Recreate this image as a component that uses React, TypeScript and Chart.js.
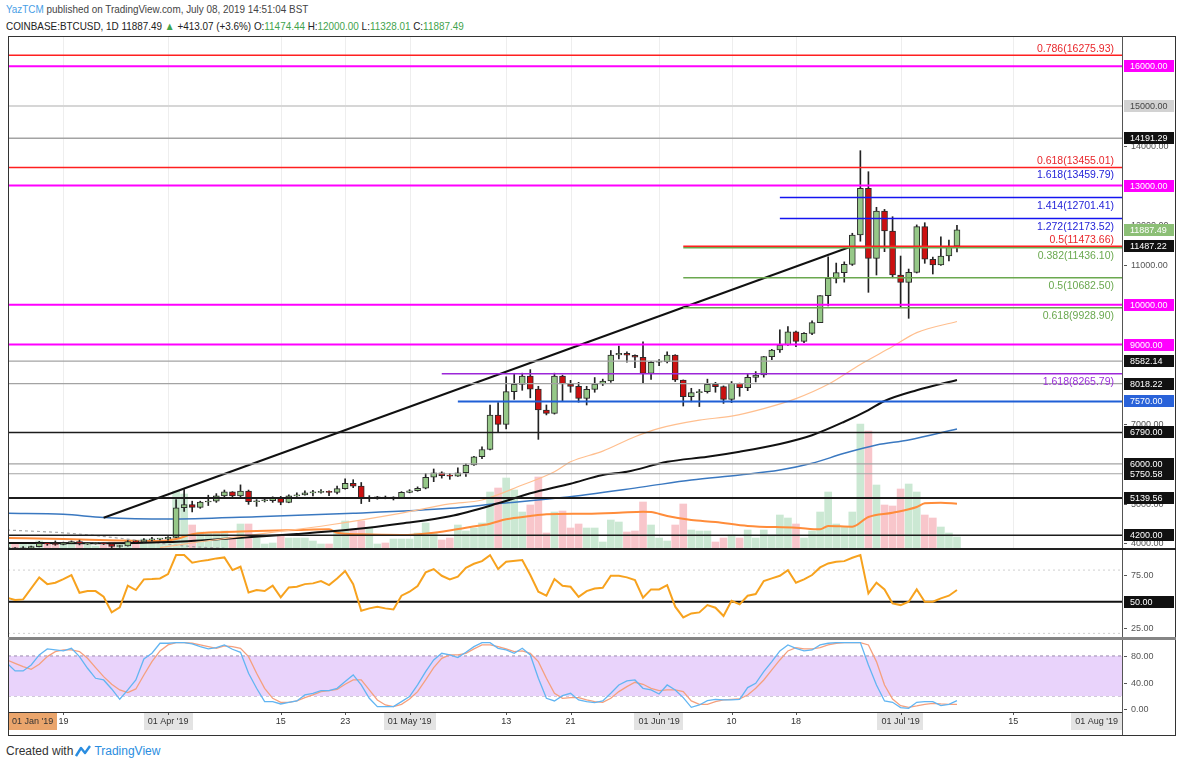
import React, { useEffect, useRef } from "react";
import { Chart, registerables } from "chart.js";
Chart.register(...registerables);

// ---------------- data (day 0 = 01 Apr 2019) ----------------
const FIRST_DAY = -20; // 12 Mar 2019
const OPEN = [3870,3880,3860,3875,3915,4000,3985,3970,4010,4045,3990,3995,4005,3990,3920,3935,4045,4035,4085,4105,
4110,4150,4895,4975,4905,5040,5060,5195,5295,5190,5315,5045,5070,5075,5150,5030,5195,5220,5270,5280,
5290,5280,5375,5510,5440,5130,5145,5150,5140,5145,5280,5322,5385,5662,5776,5700,5690,5776,5970,6178,
6360,7228,6994,7814,8000,8209,7880,7353,7270,8209,8008,7950,7648,7874,8008,8083,8737,8780,8730,8680,
8277,8554,8570,8737,8108,7689,7790,7815,8000,7940,7623,8025,7916,8176,8234,8695,8863,8989,9320,9080,
9280,9550,10229,10666,10808,11019,11756,12931,11170,12360,11857,10750,10566,10817,11965,11145,11001,11228,11474];
const HIGH = [3910,3890,3920,3930,4050,4010,4060,4030,4060,4080,4010,4020,4010,4000,3950,4070,4060,4120,4150,4120,
4170,5100,5350,5060,5060,5210,5250,5340,5300,5470,5340,5100,5120,5170,5180,5220,5270,5320,5330,5350,
5320,5440,5620,5600,5530,5200,5180,5190,5170,5300,5350,5420,5760,5870,5800,5760,5900,6000,6190,6430,
7480,7540,8186,8277,8280,8370,7950,7480,8280,8230,8100,8050,7950,8170,8130,8850,8963,8820,8740,9071,
8580,8620,8820,8745,8110,7900,7870,8130,8050,7960,8070,8030,8250,8320,8700,8880,9370,9450,9340,9300,
9600,10230,11210,11050,11080,11800,13877,13348,12453,12400,12216,11227,10900,12010,12065,11200,11713,11630,12000];
const LOW = [3820,3840,3810,3860,3910,3950,3950,3960,3990,3960,3970,3980,3970,3890,3900,3930,4020,4025,4060,4085,
4080,4140,4800,4790,4880,4950,5030,5150,5150,5170,4980,4930,5040,5030,4970,5020,5180,5210,5190,5260,
5200,5240,5360,5400,5000,5050,5110,5120,5090,5130,5270,5310,5370,5550,5640,5610,5680,5680,5960,6130,
6350,6808,6880,7620,7850,7660,6615,7230,7250,7580,7800,7550,7480,7800,7970,8050,8640,8560,8420,8025,
8120,8470,8540,8070,7454,7560,7440,7780,7800,7520,7540,7700,7840,8060,8180,8620,8800,8980,8950,9050,
9250,9550,9970,10550,10570,10990,11600,10314,10750,11336,10680,9952,9660,10800,11044,10775,10990,11102,11328];
const CLOSE = [3880,3860,3875,3915,4000,3985,3970,4010,4045,3990,3995,4005,3990,3920,3935,4045,4035,4085,4105,4110,
4150,4895,4975,4905,5040,5060,5195,5295,5190,5315,5045,5070,5075,5150,5030,5195,5220,5270,5280,5290,
5280,5375,5510,5440,5130,5145,5150,5140,5145,5280,5322,5385,5662,5776,5700,5690,5776,5970,6178,6360,
7228,6994,7814,8000,8209,7880,7353,7270,8209,8008,7950,7648,7874,8008,8083,8737,8780,8730,8680,8277,
8554,8570,8737,8108,7689,7790,7815,8000,7940,7623,8025,7916,8176,8234,8695,8863,8989,9320,9080,9280,
9550,10229,10666,10808,11019,11756,12931,11170,12360,11857,10750,10566,10817,11965,11145,11001,11228,11474,11887.49];
const VOLUME = [3000,2500,2500,3000,4000,2500,3000,2500,3000,3500,2500,1500,2000,3500,2500,4500,3000,5000,3500,2500,
4000,29000,27500,12000,8500,8000,8000,9000,6000,12500,12500,5500,2500,3000,7000,5500,5500,5500,4000,2500,
2500,9500,14000,10000,14000,10500,2500,3000,5000,5000,5000,8000,13000,8000,4500,5500,12000,9000,10500,13000,
28500,30500,35500,29500,18500,22000,36000,8000,18500,19000,10500,12500,10500,10500,3500,14500,13500,8500,9000,23500,
12000,5500,4000,12000,22500,9500,9000,9000,3500,5500,7000,5500,9500,5500,9500,7000,17000,15500,12500,5500,
9000,18500,28500,12500,11000,18500,62500,59000,32000,22000,21500,30000,32500,28500,17000,15500,11000,8000,6000];
const VOLUME_MA = [[-20,5500],[-13,5000],[-6,4250],[-1,4000],[1,5000],[3,7350],[7,8500],[11,9000],[16,9500],[20,9850],
[21,8150],[24,7350],[29,7000],[33,8150],[37,10650],[40,12650],[42,14850],[45,16500],[47,17350],[52,17650],[56,18150],
[59,18650],[60,18500],[62,16500],[65,14500],[68,13500],[72,11500],[78,10650],[81,9850],[82,11500],[85,11150],[87,16000],
[90,18150],[93,21000],[94,22850],[96,23150],[98,22650]];
const MA50 = [[-1,3890],[4,4040],[12,4250],[20,4460],[29,4760],[35,4990],[39,5090],[44,5466],[48,5800],[50,6050],[54,6320],
[58,6682],[61,6893],[66,7100],[70,7200],[74,7390],[78,7640],[82,8000],[86,8500],[90,8950],[93,9300],[98,9580]];
const MA100 = [[-20,4010],[-8,4000],[0,4030],[8,4126],[16,4234],[23,4352],[29,4500],[35,4680],[41,5006],[45,5258],[50,5500],
[54,5718],[57,5800],[62,6050],[67,6178],[71,6305],[76,6500],[80,6720],[84,7059],[87,7353],[89,7580],[93,7850],[98,8110]];
const MA200 = [[-20,4754],[-13,4730],[-8,4650],[0,4610],[11,4670],[23,4754],[35,4880],[41,5000],[49,5150],[59,5420],[65,5592],
[71,5718],[76,5843],[80,6012],[84,6264],[88,6473],[92,6600],[98,6875]];
const DASHED_AVG = [[-20,4335],[-12,4250],[-4,4080],[2,3932],[7,3874]];
const TRENDLINE = [[-8,4644],[84.6,11447]];

const RSI = [53.8,51.6,52.2,null,73.1,66.7,68.0,71.5,75.3,58.5,60.1,60.1,54.7,39.9,44.6,65.2,61.1,71.2,71.5,72.1,
76.2,94.2,94.2,87.0,88.5,89.5,91.1,92.0,80.0,83.2,58.8,61.1,60.1,65.2,54.1,63.6,64.2,66.7,67.4,69.6,
65.8,72.1,79.1,66.7,41.5,43.7,45.3,43.7,42.7,55.7,59.5,64.9,77.8,81.0,74.6,71.2,73.7,82.2,86.0,88.5,
94.2,81.0,87.9,null,89.5,75.3,59.5,55.7,71.5,65.2,64.2,54.7,60.1,62.6,63.3,74.6,74.6,73.1,70.5,53.8,
61.7,61.7,65.8,45.3,35.1,38.9,39.9,46.8,44.3,36.4,50.9,47.5,55.7,57.3,69.6,72.1,74.6,80.0,68.0,71.2,
75.3,82.5,86.3,87.9,88.5,91.7,94.2,57.9,68.0,61.7,48.4,46.8,50.0,61.7,50.0,50.0,53.2,55.7,61.1];
const STOCH_K = [69,57.5,57.5,66.5,81.5,90.5,89,87.5,91.5,79,61.5,46.5,44,30.5,15,29,44,75.5,84,99,
99,100,100,98,94,90.5,92.5,96.5,90,85.5,54,31.5,11.5,11.5,8,10.5,12.5,21.5,24,28,
28,31.5,41.5,51.5,36.5,16.5,4,4,4,11.5,19,36.5,56.5,74,84,81.5,77.5,85.5,94,100,
100,91.5,89,84,91.5,81.5,46.5,16.5,12.5,20.5,24,14,11.5,10,12.5,24,36.5,42.5,44,31.5,
29,23,36.5,29,17.5,3,6.5,13,15,14,14,15,32.5,39,56.5,71.5,87.5,96.5,91.5,87.5,
89,96.5,99,100,100,100,100,66.5,36.5,12.5,10.5,2.5,1.5,10.5,11.5,11.5,5.5,7.5,13];
const STOCH_D = [74,69,64,60,67.5,79,86.5,89,89,86.5,76.5,62.5,49,37.5,29,25,30.5,51.5,71.5,87.5,
96.5,100,100,99,96.5,94,91.5,95,94,91.5,79,54,31.5,16.5,10.5,10.5,12.5,17.5,21.5,26.5,
28,30,37.5,44,44,29,14,6.5,4,7.5,15.5,26.5,44,62.5,76.5,81.5,81.5,84,90.5,96.5,
96.5,94,90.5,86.5,87.5,84,71.5,46.5,24,16.5,17.5,17.5,14,11.5,10.5,16.5,26.5,34,40.5,37.5,
31.5,28,29,29,26.5,12.5,7.5,7.5,11.5,14,15,15.5,21.5,31.5,44,59,74,87.5,92.5,90.5,
90.5,92.5,96.5,99,100,100,100,96.5,71.5,36.5,15.5,5.5,3,5,7.5,9,8,7.5,7.5];

const LEVEL_VALUES = [16275.93,16000,15000,14191.29,13455.01,13000,12701.41,12173.52,11473.66,11436.10,10682.50,10000,9928.90,9000,8582.14,8265.79,8018.22,7570,6790,6000,5750.58,5139.56,4200];
const LEVEL_FROM_DAY = [null,null,null,null,null,null,76,76,64,64,64,null,64,null,null,34,null,36,null,null,null,null,null];
const FIB_LABELS = ["0.786(16275.93)","0.618(13455.01)","1.618(13459.79)","1.414(12701.41)","1.272(12173.52)","0.5(11473.66)","0.382(11436.10)","0.5(10682.50)","0.618(9928.90)","1.618(8265.79)"];
const FIB_LABEL_VALUES = [16275.93,13455.01,13459.79,12701.41,12173.52,11473.66,11436.10,10682.50,9928.90,8265.79];
const AXIS_BOX_VALUES = [16000,15000,14191.29,13000,11887.49,11487.22,10000,9000,8582.14,8018.22,7570,6790,6000,5750.58,5139.56,4200];
const PRICE_TICKS = [4000,5000,6000,7000,8000,9000,10000,11000,12000,13000,14000,15000,16000];
const RSI_TICKS = [75,50,25];
const STOCH_TICKS = [80,40,0];
const X_TICK_DAYS = [-90,-13,0,14,22,30,42,50,61,70,78,91,105,122];
const X_TICK_LABELS = ["01 Jan '19","19","01 Apr '19","15","23","01 May '19","13","21","01 Jun '19","10","18","01 Jul '19","15","01 Aug '19"];

// ---------------- view / style ----------------
const X_MIN = -19.88, X_MAX = 118.5;
const PRICE_MIN = 3857, PRICE_MAX = 16737;
const RED = "#ff1f1f", MAG = "#ff00ff", BLUE = "#1414f0", GREEN = "#6aa84f", PURPLE = "#9c27d8", BLK = "#1c1c1c", GRY = "#a3a3a3";
const LEVEL_COLORS = [RED,MAG,"#d6d6d6",GRY,RED,MAG,BLUE,BLUE,RED,GREEN,GREEN,MAG,GREEN,MAG,GRY,PURPLE,GRY,"#1f5fd6",BLK,GRY,GRY,BLK,BLK];
const LEVEL_WIDTHS = [1.5,2,2,1.5,1.5,2,1.5,1.5,1.5,1.5,1.5,2,1.5,2,1.2,1.5,1.2,2,1.5,1.2,1.2,2,1.5];
const FIB_COLORS = ["#e8262b","#e8262b","#2323d8","#2323d8","#2323d8","#e8262b",GREEN,GREEN,GREEN,"#9b30d9"];
const FIB_BELOW = [false,false,true,true,true,false,true,true,true,true];
const BOX_BG = [MAG,"#d2d2d2","#111",MAG,"#8cbf76","#111",MAG,MAG,"#111","#111","#2962d9","#111","#111","#111","#111","#111"];
const BOX_FG = ["#fff","#444","#fff","#fff","#fff","#fff","#fff","#fff","#fff","#fff","#fff","#fff","#fff","#fff","#fff","#fff"];
const X_TICK_KIND = [2,0,1,0,0,1,0,0,1,0,0,1,0,1];
const AXIS_FONT = "9px 'Liberation Sans', Arial, sans-serif";
const FIB_FONT = "10.5px 'Liberation Sans', Arial, sans-serif";
const W = 1167, AXIS_W = 53;

const days = OPEN.map((_, i) => FIRST_DAY + i);
const isUp = (i: number) => CLOSE[i] >= OPEN[i];
const pairs = (a: number[][]) => a.map(([x, y]) => ({ x, y }));
const hline = (v: number, from: number | null) => [{ x: from == null ? X_MIN : from, y: v }, { x: X_MAX, y: v }];

function axisTick(ctx: CanvasRenderingContext2D, x0: number, y: number, text: string) {
  ctx.fillStyle = "#555";
  ctx.fillRect(x0 + 2, Math.round(y), 3, 1);
  ctx.fillText(text, x0 + 9, y + 0.5);
}
function axisBox(ctx: CanvasRenderingContext2D, x0: number, y: number, text: string, bg: string, fg: string) {
  ctx.fillStyle = bg;
  ctx.fillRect(x0 + 2, Math.round(y) - 6, 50, 12);
  ctx.fillStyle = fg;
  ctx.fillText(text, x0 + 8, y + 0.5);
}
function setAxisFont(ctx: CanvasRenderingContext2D) {
  ctx.font = AXIS_FONT;
  ctx.textAlign = "left";
  ctx.textBaseline = "middle";
}

const lineDs = (data: any[], color: string, width: number, order: number, extra: any = {}) => ({
  type: "line", data, borderColor: color, borderWidth: width, pointRadius: 0, fill: false, order, tension: 0, ...extra,
});

const baseOptions = (ymin: number, ymax: number, padBottom = 0): any => ({
  animation: false, responsive: false, maintainAspectRatio: false, events: [],
  layout: { padding: { left: 0, right: AXIS_W, top: 0, bottom: padBottom } },
  plugins: { legend: { display: false }, tooltip: { enabled: false } },
  datasets: { bar: { grouped: false } },
  scales: {
    x: { type: "linear", min: X_MIN, max: X_MAX, display: false, offset: false },
    y: { type: "linear", min: ymin, max: ymax, display: false, position: "right" },
  },
});

function mainConfig(): any {
  const ds: any[] = [];
  LEVEL_VALUES.forEach((v, i) => ds.push(lineDs(hline(v, LEVEL_FROM_DAY[i]), LEVEL_COLORS[i], LEVEL_WIDTHS[i], 0)));
  ds.push(lineDs(pairs(TRENDLINE), "#111", 2, 0));
  ds.push({ type: "bar", data: days.map((d, i) => ({ x: d, y: [OPEN[i], CLOSE[i]] })), backgroundColor: days.map((_, i) => (isUp(i) ? "#96c888" : "#cc1010")),
    borderColor: "#2a2a2a", borderWidth: 1, borderSkipped: false, barThickness: 6, minBarLength: 1, order: 1 });
  ds.push({ type: "bar", data: days.map((d, i) => ({ x: d, y: [LOW[i], HIGH[i]] })), backgroundColor: "#222", borderWidth: 0, barThickness: 1, order: 2 });
  ds.push(lineDs(pairs(MA50), "#ffbf8f", 1.2, 3, { tension: 0.3, cubicInterpolationMode: "monotone" }));
  ds.push(lineDs(pairs(MA100), "#111", 2, 3, { tension: 0.3, cubicInterpolationMode: "monotone" }));
  ds.push(lineDs(pairs(MA200), "#3a78c0", 1.5, 3, { tension: 0.3, cubicInterpolationMode: "monotone" }));
  ds.push(lineDs(pairs(DASHED_AVG), "#a8a8a8", 1.2, 3, { borderDash: [3, 3], tension: 0.3, cubicInterpolationMode: "monotone" }));
  ds.push(lineDs(pairs(VOLUME_MA), "#ff8c3a", 2, 4, { yAxisID: "yv", tension: 0.3, cubicInterpolationMode: "monotone" }));
  ds.push({ type: "bar", yAxisID: "yv", data: days.map((d, i) => ({ x: d, y: VOLUME[i] })), backgroundColor: days.map((_, i) => (isUp(i) ? "#cbe8d3" : "#f8c6cb")),
    borderWidth: 0, barThickness: 7, order: 5 });
  const opt = baseOptions(PRICE_MIN, PRICE_MAX);
  opt.scales.yv = { type: "linear", min: 0, max: 256000, display: false, position: "right" };
  return {
    type: "line", data: { datasets: ds }, options: opt,
    plugins: [{
      id: "mainDeco",
      beforeDatasetsDraw(chart: any) {
        const { ctx, chartArea: ca, scales } = chart;
        ctx.save();
        ctx.strokeStyle = "#eeeeee";
        ctx.lineWidth = 1;
        X_TICK_DAYS.forEach((d) => {
          const px = scales.x.getPixelForValue(d);
          if (px <= ca.left + 2 || px >= ca.right - 2) return;
          ctx.beginPath(); ctx.moveTo(Math.round(px) + 0.5, ca.top); ctx.lineTo(Math.round(px) + 0.5, ca.bottom); ctx.stroke();
        });
        ctx.restore();
      },
      afterDatasetsDraw(chart: any) {
        const { ctx, chartArea: ca, scales } = chart;
        ctx.save();
        ctx.font = FIB_FONT;
        ctx.textAlign = "right";
        FIB_LABELS.forEach((t, i) => {
          const y = scales.y.getPixelForValue(FIB_LABEL_VALUES[i]);
          ctx.fillStyle = FIB_COLORS[i];
          if (FIB_BELOW[i]) { ctx.textBaseline = "top"; ctx.fillText(t, ca.right - 8, y + 3); }
          else { ctx.textBaseline = "bottom"; ctx.fillText(t, ca.right - 8, y - 1); }
        });
        ctx.restore();
      },
      afterDraw(chart: any) {
        const { ctx, chartArea: ca, scales } = chart;
        ctx.save();
        setAxisFont(ctx);
        PRICE_TICKS.forEach((v) => axisTick(ctx, ca.right, scales.y.getPixelForValue(v), v.toFixed(2)));
        AXIS_BOX_VALUES.forEach((v, i) => axisBox(ctx, ca.right, scales.y.getPixelForValue(v), v.toFixed(2), BOX_BG[i], BOX_FG[i]));
        ctx.restore();
      },
    }],
  };
}

function rsiConfig(): any {
  const ds: any[] = [
    lineDs(days.map((d, i) => ({ x: d, y: RSI[i] })), "#f7a21e", 2, 0, { spanGaps: true }),
    lineDs(hline(50, null), "#111", 2, 1),
    lineDs(hline(80, null), "#cfcfcf", 1, 2, { borderDash: [2, 3] }),
    lineDs(hline(20, null), "#cfcfcf", 1, 2, { borderDash: [2, 3] }),
  ];
  return {
    type: "line", data: { datasets: ds }, options: baseOptions(15.6, 100),
    plugins: [{
      id: "rsiAxis",
      afterDraw(chart: any) {
        const { ctx, chartArea: ca, scales } = chart;
        ctx.save();
        setAxisFont(ctx);
        RSI_TICKS.forEach((v) => {
          const y = scales.y.getPixelForValue(v);
          if (v === 50) axisBox(ctx, ca.right, y, v.toFixed(2), "#111", "#fff");
          else axisTick(ctx, ca.right, y, v.toFixed(2));
        });
        ctx.restore();
      },
    }],
  };
}

function stochConfig(): any {
  const ds: any[] = [
    lineDs(days.map((d, i) => ({ x: d, y: STOCH_K[i] })), "#62b5f2", 1.3, 0),
    lineDs(days.map((d, i) => ({ x: d, y: STOCH_D[i] })), "#f5a07e", 1.3, 1),
    lineDs(hline(80, null), "#9a8aae", 1, 3, { borderDash: [3, 3], fill: "+1", backgroundColor: "#e9d3fb" }),
    lineDs(hline(20, null), "#9a8aae", 1, 3, { borderDash: [3, 3] }),
  ];
  return {
    type: "line", data: { datasets: ds }, options: baseOptions(-4.05, 106.9, 23),
    plugins: [{
      id: "stochAxis",
      afterDraw(chart: any) {
        const { ctx, chartArea: ca, scales } = chart;
        ctx.save();
        setAxisFont(ctx);
        STOCH_TICKS.forEach((v) => axisTick(ctx, ca.right, scales.y.getPixelForValue(v), v.toFixed(2)));
        ctx.textAlign = "center";
        X_TICK_DAYS.forEach((d, i) => {
          const text = X_TICK_LABELS[i];
          const bw = ctx.measureText(text).width + 8;
          let px = scales.x.getPixelForValue(d);
          let clamped = false;
          if (px - bw / 2 < ca.left) { px = ca.left + bw / 2; clamped = true; }
          if (px + bw / 2 > ca.right) { px = ca.right - bw / 2; clamped = true; }
          const kind = X_TICK_KIND[i];
          if (kind) {
            ctx.fillStyle = kind === 2 ? "#eaa56c" : "#e3e3e3";
            ctx.fillRect(Math.round(px - bw / 2), ca.bottom + 1, Math.round(bw), 17);
          }
          if (!clamped) { ctx.fillStyle = "#555"; ctx.fillRect(Math.round(px), ca.bottom, 1, 3); }
          ctx.fillStyle = "#333";
          ctx.fillText(text, px, ca.bottom + 10);
        });
        ctx.restore();
      },
    }],
  };
}

const line = (l: number, t: number, w: number, h: number, c: string) => (
  <div style={{ position: "absolute", left: l, top: t, width: w, height: h, background: c }} />
);

export default function App() {
  const mainRef = useRef<HTMLCanvasElement>(null);
  const rsiRef = useRef<HTMLCanvasElement>(null);
  const stRef = useRef<HTMLCanvasElement>(null);
  useEffect(() => {
    const charts = [
      new Chart(mainRef.current as HTMLCanvasElement, mainConfig()),
      new Chart(rsiRef.current as HTMLCanvasElement, rsiConfig()),
      new Chart(stRef.current as HTMLCanvasElement, stochConfig()),
    ];
    return () => charts.forEach((c) => c.destroy());
  }, []);
  const cv = (top: number, h: number): React.CSSProperties => ({ position: "absolute", left: 8, top, width: W, height: h });
  const g = { color: "#3fa34d" };
  return (
    <div style={{ position: "fixed", left: 0, top: 0, width: 1180, height: 768, background: "#fff", overflow: "hidden", fontFamily: "'Liberation Sans', Arial, sans-serif" }}>
      <div style={{ position: "absolute", left: 6, top: 3, fontSize: 11, color: "#444", whiteSpace: "nowrap", transform: "scaleX(0.9)", transformOrigin: "left top" }}>
        <span style={{ color: "#4aa0e6" }}>YazTCM</span> published on TradingView.com, July 08, 2019 14:51:04 BST
      </div>
      <div style={{ position: "absolute", left: 6, top: 20, fontSize: 11, color: "#222", whiteSpace: "nowrap", transform: "scaleX(0.9)", transformOrigin: "left top" }}>
        COINBASE:BTCUSD, 1D 11887.49 <span style={g}>▲</span> +413.07 (+3.6%) O:<span style={g}>11474.44</span> H:<span style={g}>12000.00</span> L:<span style={g}>11328.01</span> C:<span style={g}>11887.49</span>
      </div>
      <canvas ref={mainRef} width={W} height={512} style={cv(37, 512)} />
      <canvas ref={rsiRef} width={W} height={89} style={cv(549, 89)} />
      <canvas ref={stRef} width={W} height={97} style={cv(638, 97)} />
      {line(8, 36, 1168, 1, "#333")}
      {line(8, 36, 1, 700, "#333")}
      {line(1175, 36, 1, 700, "#333")}
      {line(1122, 36, 1, 700, "#555")}
      {line(8, 735, 1168, 1, "#333")}
      {line(8, 548, 1168, 2, "#222")}
      {line(8, 637, 1168, 3, "#858585")}
      {line(8, 712, 1114, 1, "#333")}
      <div style={{ position: "absolute", left: 6, top: 744, fontSize: 12, color: "#333", whiteSpace: "nowrap", display: "flex", alignItems: "center" }}>
        <span>Created with</span>
        <svg width="18" height="14" viewBox="0 0 18 14" style={{ marginLeft: 2, marginRight: 1 }}>
          <path d="M1 12 L6 4 L10 9 L15 2" stroke="#2a8de0" strokeWidth="2.4" fill="none" strokeLinejoin="round" />
        </svg>
        <span style={{ color: "#2a8de0" }}>TradingView</span>
      </div>
    </div>
  );
}
